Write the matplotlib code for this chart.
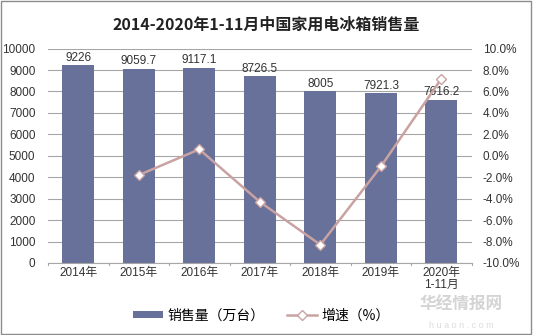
import matplotlib
matplotlib.use("Agg")
import matplotlib.pyplot as plt
from matplotlib.ticker import FuncFormatter

plt.rcParams['font.family'] = ['Liberation Sans', 'Noto Sans CJK SC', 'DejaVu Sans']

years = ['2014年', '2015年', '2016年', '2017年', '2018年', '2019年', '2020年\n1-11月']
sales = [9226, 9059.7, 9117.1, 8726.5, 8005, 7921.3, 7616.2]
sales_labels = ['9226', '9059.7', '9117.1', '8726.5', '8005', '7921.3', '7616.2']
growth_x = [1, 2, 3, 4, 5, 6]
growth = [-1.8, 0.6, -4.3, -8.3, -1.0, 7.2]

bar_color = '#67719a'
line_color = '#c9a2a2'

fig = plt.figure(figsize=(5.33, 3.35), dpi=100)
ax = fig.add_axes([0.09, 0.215, 0.795, 0.64])
x = range(len(years))
bars = ax.bar(x, sales, width=0.53, color=bar_color, zorder=2, label='销售量（万台）')
for i, v in enumerate(sales):
    ax.text(i, v + 60, sales_labels[i], ha='center', va='bottom', fontsize=8.5, color='#333333', zorder=5)

ax.set_ylim(0, 10000)
ax.set_yticks(range(0, 10001, 1000))
ax.set_xlim(-0.5, len(years) - 0.5)
ax.set_xticks(list(x))
ax.set_xticklabels(years, fontsize=8.5, linespacing=1.0)
ax.tick_params(axis='y', labelsize=8.5, length=0, pad=9, labelcolor='#333333')
ax.tick_params(axis='x', length=0, pad=3, labelcolor='#333333')
ax.grid(axis='y', color='#a6a6a6', linewidth=0.8, zorder=0)
for s in ['left', 'top', 'right']:
    ax.spines[s].set_visible(False)
ax.spines['bottom'].set_color('#a6a6a6')
for b in [i - 0.5 for i in range(len(years) + 1)]:
    ax.plot([b, b], [0, -80], color='#a6a6a6', lw=0.8, clip_on=False)

ax2 = ax.twinx()
line, = ax2.plot(growth_x, growth, color=line_color, lw=1.8, marker='D', markersize=5,
                 markerfacecolor='white', markeredgecolor=line_color, markeredgewidth=1,
                 zorder=4, label='增速（%）')
ax2.set_ylim(-10, 10)
ax2.set_yticks(range(-10, 11, 2))
ax2.yaxis.set_major_formatter(FuncFormatter(lambda v, p: f'{v:.1f}%'))
ax2.tick_params(axis='y', labelsize=8.5, length=0, pad=8, labelcolor='#333333')
for s in ['left', 'top', 'right', 'bottom']:
    ax2.spines[s].set_visible(False)

fig.text(0.5, 0.925, '2014-2020年1-11月中国家用电冰箱销售量', ha='center', va='center',
         fontsize=11.5, fontweight='bold', family=['Noto Sans CJK SC'], color='#222222')

fig.text(0.865, 0.075, '华经情报网', ha='center', fontsize=12, color='#d4d4d4',
         family=['Noto Sans CJK SC'], fontweight='bold', zorder=0)
fig.text(0.865, 0.02, 'h u a o n . c o m', ha='center', fontsize=6.5, color='#dcdcdc', zorder=0)

leg = fig.legend(handles=[bars, line], loc='lower center', bbox_to_anchor=(0.49, 0.0),
                 ncol=2, frameon=False, prop={'family': 'Noto Sans CJK SC', 'size': 10},
                 handlelength=2.2, columnspacing=1.6, handleheight=0.45, handletextpad=0.3)

fig.patches.append(plt.Rectangle((0.002, 0.003), 0.995, 0.994, transform=fig.transFigure,
                                 fill=False, edgecolor='#8c8c8c', lw=1))

fig.savefig('out.png', dpi=100)
